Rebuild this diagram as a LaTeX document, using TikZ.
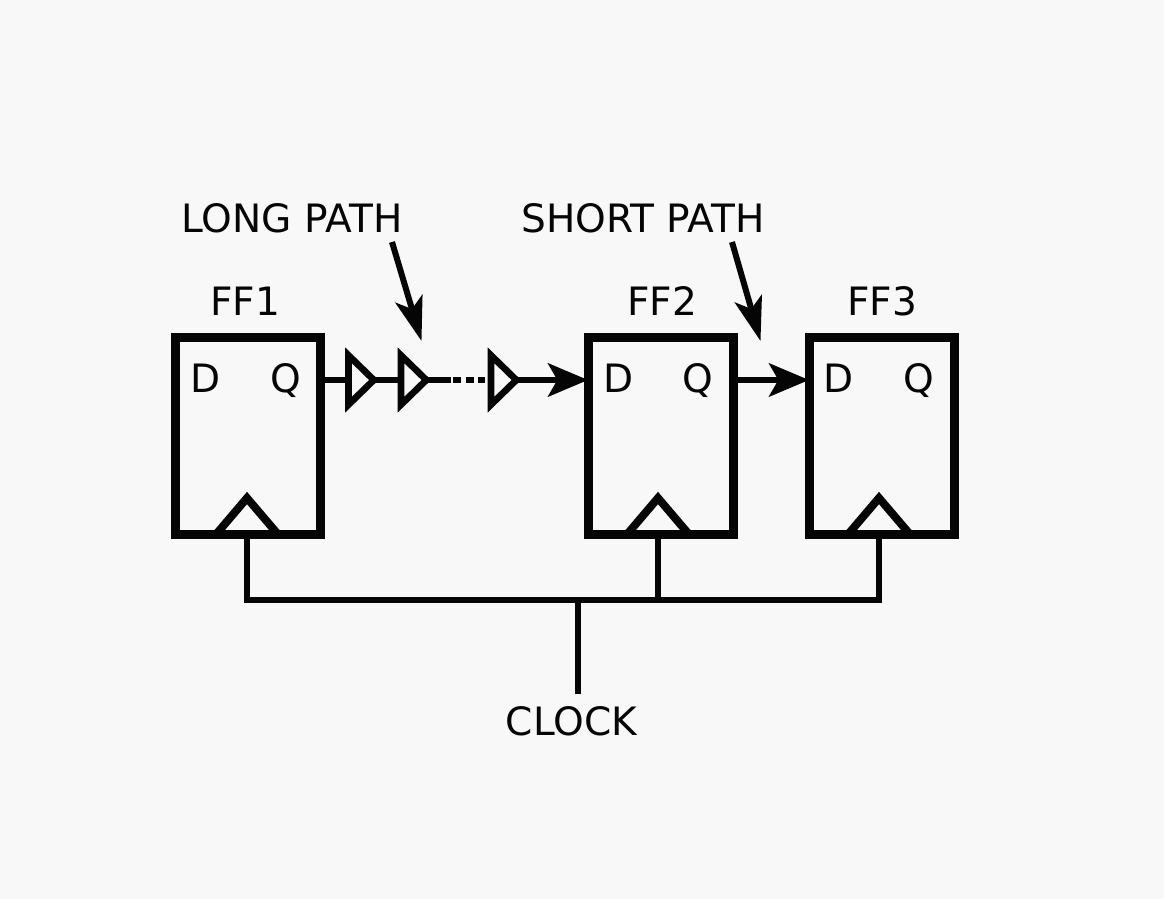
\documentclass[tikz,border=0pt]{standalone}
\usepackage{fontspec}
\setmainfont{DejaVu Sans}
\usetikzlibrary{arrows.meta, shapes.geometric}
\definecolor{paper}{RGB}{248,248,248}
\definecolor{ink}{RGB}{5,5,5}
\tikzset{
	ffbox/.style={draw=ink, line width=6.75pt, minimum width=108.75pt, minimum height=147.75pt, inner sep=0pt, outer sep=0pt},
	clocktri/.style={draw=ink, line width=6pt, isosceles triangle, isosceles triangle stretches, shape border rotate=90, minimum width=46pt, minimum height=27pt, inner sep=0pt, outer sep=0pt, anchor=lower side, miter limit=10},
	buffer/.style={draw=ink, line width=5pt, isosceles triangle, isosceles triangle stretches, minimum width=37pt, minimum height=19pt, inner sep=0pt, outer sep=0pt, anchor=lower side, miter limit=10},
	wire/.style={draw=ink, line width=4.5pt},
	bigarrow/.style={wire, -{Stealth[length=30pt, width=25pt, inset=7pt]}},
	callout/.style={wire, -{Stealth[length=33pt, width=21pt, inset=8pt]}},
	lbl/.style={text=ink, font=\fontsize{29.3pt}{29.3pt}\selectfont, inner sep=0pt, outer sep=0pt, anchor=base}
}
\begin{document}
\begin{tikzpicture}[x=.75pt, y=-.75pt]
	\useasboundingbox[fill=paper] (0,0) rectangle (1164,899);
	% flip flops
	\foreach \n/\x/\c/\t/\d/\q in {1/248/247/245/206/286, 2/660.5/658/662/619/698, 3/881.5/879/882/839/919}{
		\node[ffbox] (ff\n) at (\x,436) {};
		\node[clocktri] (clk\n) at (\c,534) {};
		\node[lbl] (name\n) at (\t,315) {FF\n};
		\node[lbl] (d\n) at (\d,392) {D};
		\node[lbl] (q\n) at (\q,392) {Q};
		\coordinate (pin\n) at (\c,599.5);
	}
	% buffer chain
	\node[buffer] (buf1) at (348.5,380) {};
	\node[buffer] (buf2) at (401,380) {};
	\node[buffer] (buf3) at (491,380) {};
	\coordinate (dots) at (451,380);
	\coordinate (dotsend) at (485,380);
	\draw[wire] (ff1.east |- buf1.lower side) -- (buf1.lower side);
	\draw[wire] (buf1.apex) -- (buf2.lower side);
	\draw[wire] (buf2.apex) -- (dots);
	\draw[wire, dash pattern=on 6pt off 3.5pt] (dots) ++(2,0) -- (dotsend);
	\draw[bigarrow] (buf3.apex) -- (ff2.west |- buf3.apex);
	\draw[bigarrow] (ff2.east |- buf3.apex) -- (ff3.west |- buf3.apex);
	% clock tree
	\coordinate (clockin) at (578,599.5);
	\coordinate (clockend) at (578,694);
	\draw[wire] (clk1.lower side) -- (pin1) -- (pin3) -- (clk3.lower side);
	\draw[wire] (clk2.lower side) -- (pin2);
	\draw[wire] (clockin) -- (clockend);
	\node[lbl] (clocklbl) at (571.5,735) {CLOCK};
	% callouts
	\node[lbl] (longlbl) at (292,232) {LONG PATH};
	\node[lbl] (shortlbl) at (643,232) {SHORT PATH};
	\coordinate (longstart) at (392,242);
	\coordinate (longtip) at (421.5,341);
	\coordinate (shortstart) at (732,242);
	\coordinate (shorttip) at (760.5,341);
	\draw[callout] (longstart) -- (longtip);
	\draw[callout] (shortstart) -- (shorttip);
\end{tikzpicture}
\end{document}
